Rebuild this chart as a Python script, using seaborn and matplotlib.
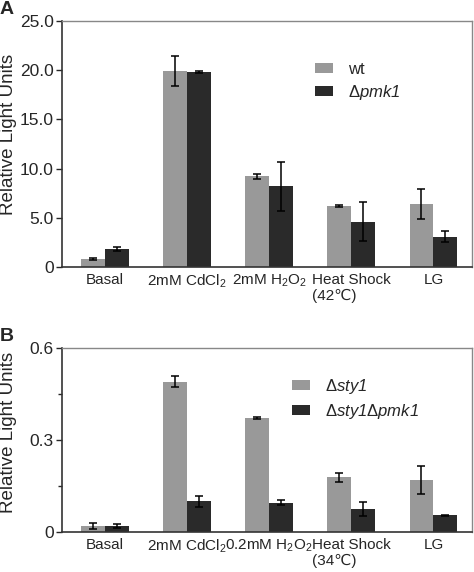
import matplotlib
matplotlib.use("Agg")
import matplotlib.pyplot as plt
import seaborn as sns
import pandas as pd
import numpy as np

# ---- data ----
cond_a = ["Basal", "2mM CdCl$_2$", "2mM H$_2$O$_2$", "Heat Shock\n(42\u2103)", "LG"]
wt_vals = [0.8, 19.9, 9.2, 6.2, 6.4]
wt_err = [0.12, 1.5, 0.3, 0.12, 1.5]
pmk1_vals = [1.8, 19.8, 8.2, 4.6, 3.1]
pmk1_err = [0.22, 0.1, 2.5, 2.0, 0.6]

cond_b = ["Basal", "2mM CdCl$_2$", "0.2mM H$_2$O$_2$", "Heat Shock\n(34\u2103)", "LG"]
sty1_vals = [0.02, 0.49, 0.372, 0.178, 0.17]
sty1_err = [0.011, 0.018, 0.003, 0.016, 0.046]
dbl_vals = [0.02, 0.1, 0.096, 0.076, 0.054]
dbl_err = [0.007, 0.018, 0.008, 0.023, 0.002]

yticks_a = [0, 5, 10, 15, 20, 25]
yticklabels_a = ["0", "5.0", "10.0", "15.0", "20.0", "25.0"]
yticks_b = [0, 0.3, 0.6]
yticklabels_b = ["0", "0.3", "0.6"]
yminor_b = [0.15, 0.45]

sns.set_theme(style="white")
plt.rcParams['font.family'] = ['Liberation Sans', 'DejaVu Sans']
plt.rcParams['mathtext.fontset'] = 'custom'
plt.rcParams['mathtext.rm'] = 'Liberation Sans'
plt.rcParams['mathtext.it'] = 'Liberation Sans:italic'
plt.rcParams['mathtext.sf'] = 'Liberation Sans:italic'
plt.rcParams['mathtext.bf'] = 'Liberation Sans:bold'

LIGHT = "#999999"
DARK = "#2a2a2a"

fig = plt.figure(figsize=(4.74, 5.72), dpi=100)
axA = fig.add_axes([0.1308, 0.5332, 0.865, 0.4301])
axB = fig.add_axes([0.1308, 0.0699, 0.865, 0.3217])


def panel(ax, conds, v1, e1, v2, e2, lab1, lab2, ymax, yt, ytl, legpos, minor=None):
    df = pd.DataFrame({
        "cond": conds + conds,
        "val": v1 + v2,
        "grp": [lab1] * len(conds) + [lab2] * len(conds),
    })
    sns.barplot(data=df, x="cond", y="val", hue="grp", errorbar=None,
                palette=[LIGHT, DARK], saturation=1, width=0.58, ax=ax,
                order=conds, hue_order=[lab1, lab2], linewidth=0)
    for cont, errs in zip(ax.containers, [e1, e2]):
        xs = [p.get_x() + p.get_width() / 2 for p in cont]
        ys = [p.get_height() for p in cont]
        ax.errorbar(xs, ys, yerr=errs, fmt="none", ecolor="black",
                    elinewidth=1.1, capsize=3, capthick=1.1, zorder=5)
    ax.set_xlim(-0.52, 4.47)
    ax.set_ylim(0, ymax)
    ax.set_yticks(yt)
    ax.set_yticklabels(ytl, fontsize=12.5)
    if minor is not None:
        ax.set_yticks(minor, minor=True)
    ax.set_xticks(range(len(conds)))
    ax.set_xticklabels(conds, fontsize=11, ha="center", multialignment="left")
    ax.set_xlabel("")
    ax.set_ylabel("Relative Light Units", fontsize=13.5)
    ax.yaxis.set_label_coords(-0.109, 0.54)
    ax.tick_params(axis="y", which="major", direction="out", length=4, width=1,
                   pad=2, left=True)
    ax.tick_params(axis="y", which="minor", direction="out", length=3, width=1,
                   left=True)
    ax.tick_params(axis="x", length=0, pad=4)
    for s in ["left", "bottom"]:
        ax.spines[s].set_color("#333333")
        ax.spines[s].set_linewidth(1.2)
    for s in ["top", "right"]:
        ax.spines[s].set_color("#888888")
        ax.spines[s].set_linewidth(1.0)
    ax.legend(loc="upper left", bbox_to_anchor=legpos, frameon=False,
              fontsize=12, handlelength=1.1, handleheight=0.55,
              handletextpad=0.9, labelspacing=0.35, borderaxespad=0)


panel(axA, cond_a, wt_vals, wt_err, pmk1_vals, pmk1_err,
      "wt", r"$\Delta\mathsf{pmk1}$", 25, yticks_a, yticklabels_a, (0.60, 0.86))
panel(axB, cond_b, sty1_vals, sty1_err, dbl_vals, dbl_err,
      r"$\Delta\mathsf{sty1}$", r"$\Delta\mathsf{sty1}\Delta\mathsf{pmk1}$",
      0.6, yticks_b, yticklabels_b, (0.545, 0.88), minor=yminor_b)

fig.text(0.0, 0.998, "A", fontsize=14, fontweight="bold", va="top", ha="left")
fig.text(0.0, 0.427, "B", fontsize=14, fontweight="bold", va="top", ha="left")

fig.savefig("out.png", dpi=100)
